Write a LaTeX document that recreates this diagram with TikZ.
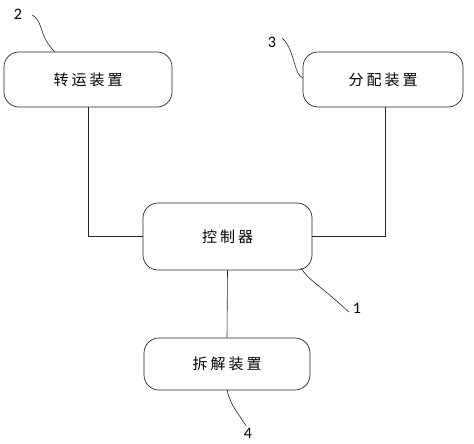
\documentclass[tikz,border=0pt]{standalone}
\usepackage{fontspec}
\newfontfamily\cjk[LetterSpace=20]{Noto Sans CJK SC}
\newfontfamily\numfont{Carlito}
\begin{document}
\begin{tikzpicture}[x=1pt,y=-1pt,
  box/.style={draw=black!85,line width=0.7pt,rounded corners=15pt,fill=white,
    font=\cjk\fontsize{15}{17}\selectfont,inner sep=0pt},
  wire/.style={draw=black!85,line width=0.6pt},
  lead/.style={draw=black!85,line width=0.6pt},
  num/.style={font=\numfont\fontsize{16}{18}\selectfont,inner sep=0pt}]
\useasboundingbox (0,0) rectangle (474,444);
\node[box,minimum width=168pt,minimum height=55pt] (a) at (88,79.5) {转运装置};
\node[box,minimum width=160pt,minimum height=55pt] (b) at (383,79.5) {分配装置};
\node[box,minimum width=169pt,minimum height=67pt] (c) at (227.5,236.5) {控制器};
\node[box,minimum width=166pt,minimum height=52pt] (d) at (227,364) {拆解装置};
\draw[wire] (a.south) |- (c.west);
\draw[wire] ([xshift=2pt]b.south) |- (c.east);
\draw[wire] (c.south) -- (d.north);
% labels
\node[num] (n2) at (18,14) {2};
\node[num] (n3) at (272,42) {3};
\node[num] (n1) at (357,308) {1};
\node[num] (n4) at (248,433) {4};
\coordinate (a2) at (55,52);
\coordinate (b3) at (303,78);
\coordinate (c1) at (301,268);
\coordinate (d4) at (227,390);
\draw[lead] ([xshift=10pt,yshift=-1pt]n2.east) .. controls (44,22) and (38,35) .. (a2);
\draw[lead] ([xshift=6pt,yshift=4pt]n3.east) .. controls (295,50) and (294,76) .. (b3);
\draw[lead] (c1) .. controls (308,280) and (320,285) .. ([xshift=-4pt,yshift=-4pt]n1.west);
\draw[lead] (d4) .. controls (231,406) and (236,410) .. ([xshift=-2pt,yshift=2pt]n4.north);
\end{tikzpicture}
\end{document}
